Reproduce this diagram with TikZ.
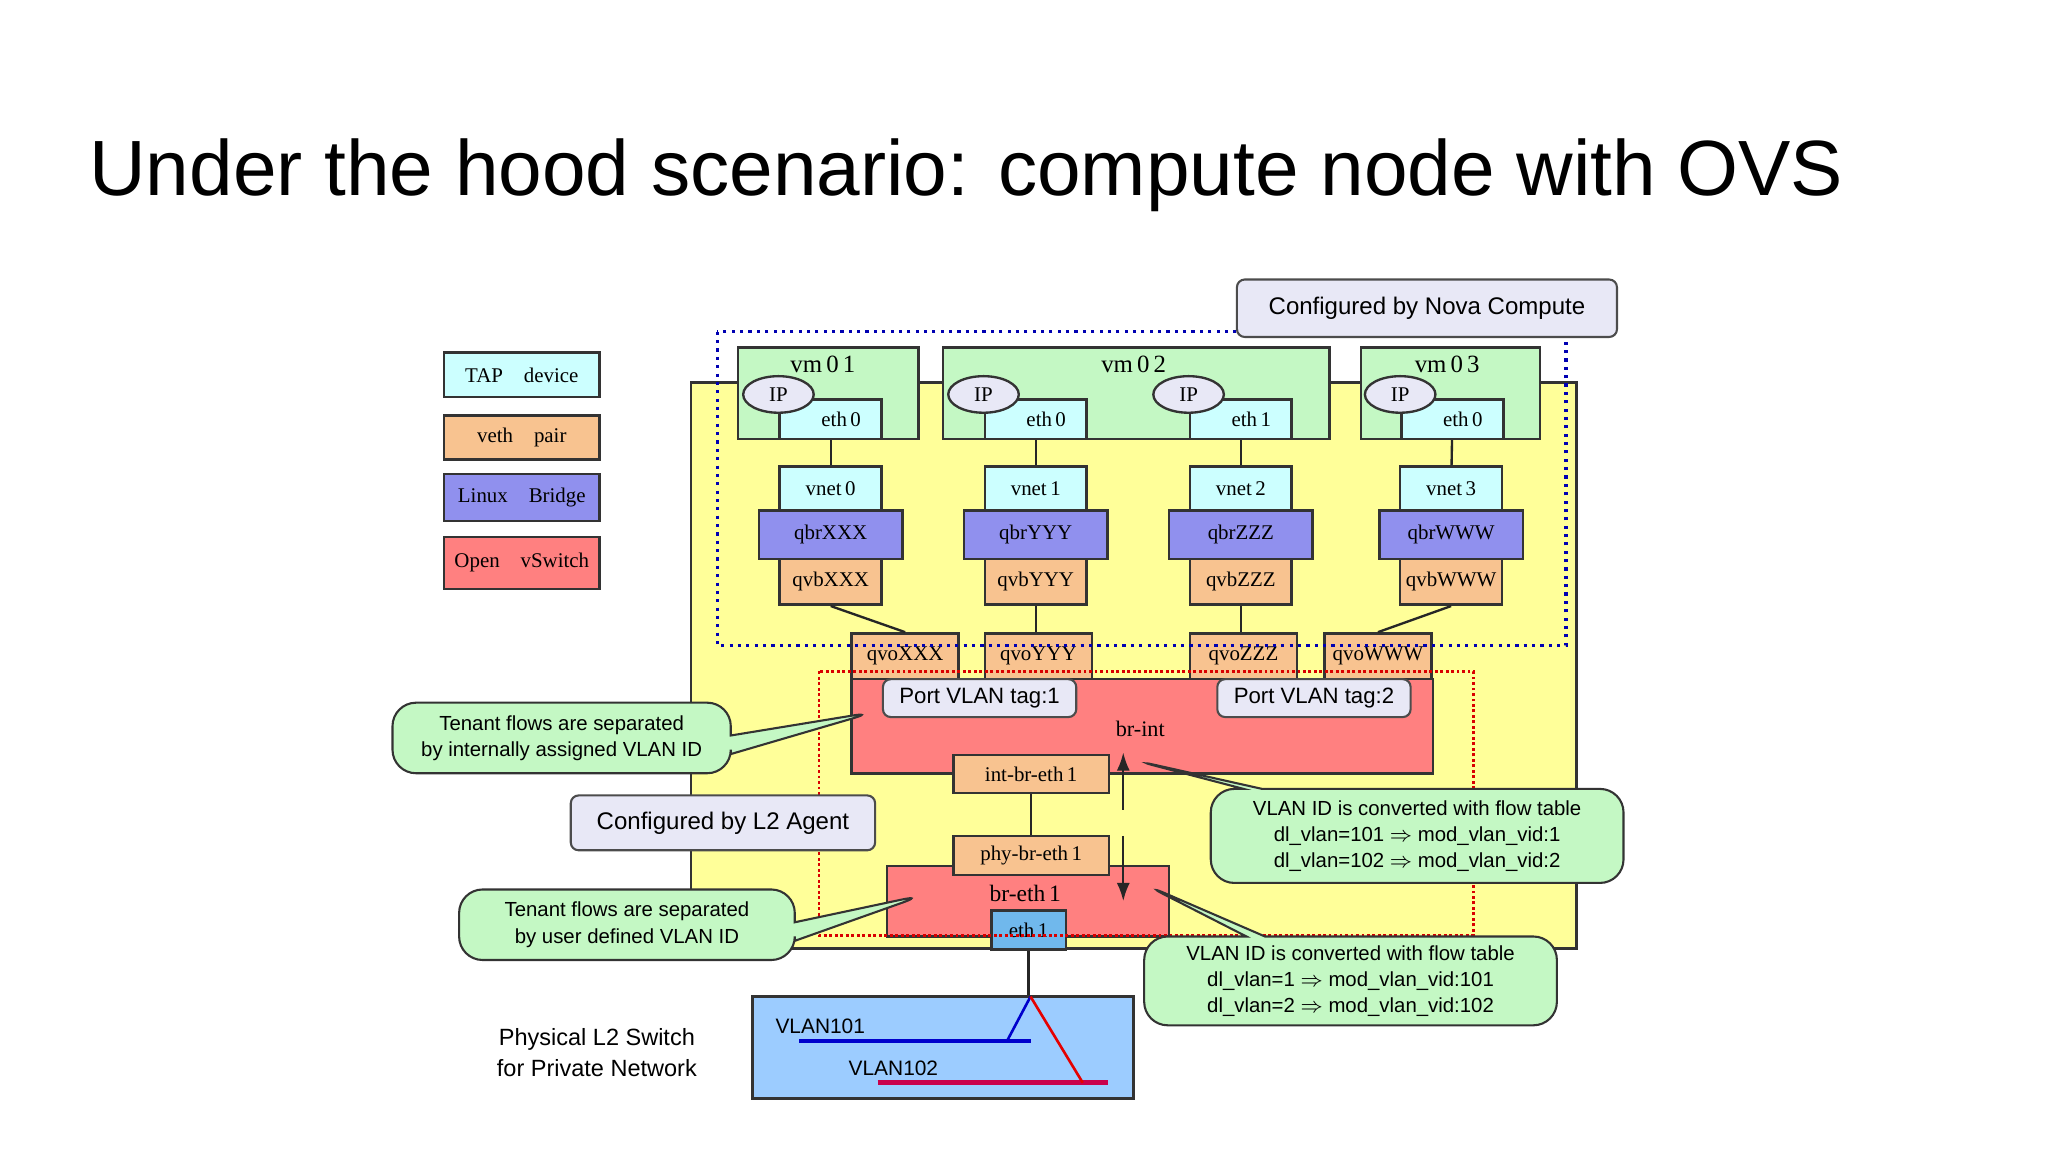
\documentclass[tikz,border=0pt]{standalone}
\usepackage{fontspec}
\setmainfont{Liberation Serif}
\newfontfamily\sans{Liberation Sans}
\usetikzlibrary{shapes.geometric,shapes.callouts,arrows.meta}
\definecolor{cyel}{HTML}{FFFF99}
\definecolor{cgrn}{HTML}{C4F8C4}
\definecolor{ccya}{HTML}{CCFFFF}
\definecolor{cora}{HTML}{F8C390}
\definecolor{cblu}{HTML}{9090EE}
\definecolor{cred}{HTML}{FF8080}
\definecolor{clav}{HTML}{E8E8F6}
\definecolor{ceth}{HTML}{70B8EC}
\definecolor{cswi}{HTML}{9CCCFF}
\newcommand{\bx}[7]{\node[#6, minimum width={((#4)-(#2))*0.5pt}, minimum height={((#5)-(#3))*0.5pt}] (#1) at ({((#2)+(#4))/2},{((#3)+(#5))/2}) {#7};}
\begin{document}
\begin{tikzpicture}[x=0.5pt,y=-0.5pt,
  box/.style={draw=black!80, line width=1pt, inner sep=0pt, font=\fontsize{8}{9}\selectfont},
  tap/.style={box, fill=ccya}, veth/.style={box, fill=cora}, lb/.style={box, fill=cblu},
  ovs/.style={box, fill=cred}, vm/.style={box, fill=cgrn},
  lav/.style={draw=black!70, line width=0.8pt, fill=clav, rounded corners=3pt, inner sep=0pt, font=\sans\fontsize{8.5}{10}\selectfont},
  call/.style={rectangle callout, draw=black!80, line width=0.8pt, fill=cgrn, rounded corners=9pt, align=center, inner sep=0pt, font=\sans\fontsize{7.8}{10}\selectfont},
  ln/.style={draw=black!85, line width=0.9pt}]
\useasboundingbox (0,0) rectangle (1568,882);
\node[anchor=base west, font=\sans\fontsize{30}{36}\selectfont, inner sep=0pt] (title) at (68,150) {Under the hood scenario: compute node with OVS};
% legend
\bx{lg1}{340}{270}{459}{304}{tap}{TAP\quad device}
\bx{lg2}{340}{318}{459}{352}{veth}{veth\quad pair}
\bx{lg3}{340}{363}{459}{399}{lb}{Linux\quad Bridge}
\bx{lg4}{340}{411}{459}{451}{ovs}{Open\quad vSwitch}
% host
\bx{host}{529}{293}{1207}{726}{box, fill=cyel}{}
% VMs
\bx{vm1}{565}{266}{703}{336}{vm}{}
\bx{vm2}{722}{266}{1018}{336}{vm}{}
\bx{vm3}{1042}{266}{1179}{336}{vm}{}
\node[font=\fontsize{9.5}{10}\selectfont] (vm1t) at (630,279) {vm\,0\,1};
\node[font=\fontsize{9.5}{10}\selectfont] (vm2t) at (868,279) {vm\,0\,2};
\node[font=\fontsize{9.5}{10}\selectfont] (vm3t) at (1108,279) {vm\,0\,3};
\bx{e1}{597}{306}{675}{336}{tap}{\quad eth\,0}
\bx{e2}{754}{306}{832}{336}{tap}{\quad eth\,0}
\bx{e3}{911}{306}{989}{336}{tap}{\quad eth\,1}
\bx{e4}{1073}{306}{1151}{336}{tap}{\quad eth\,0}
\foreach \n/\x in {1/596,2/753,3/910,4/1072}{
  \node[ellipse, draw=black!80, line width=0.9pt, fill=clav, minimum width=27pt, minimum height=14pt, inner sep=0pt, font=\fontsize{8}{9}\selectfont] (ip\n) at (\x,302) {IP};}
% stacks
\foreach \n/\c/\s in {1/636/XXX,2/793/YYY,3/950/ZZZ,4/1111/WWW}{
  \bx{vn\n}{\c-39}{357}{\c+39}{391}{tap}{vnet\,\the\numexpr\n-1\relax}
  \bx{qbr\n}{\c-55}{391}{\c+55}{428}{lb}{qbr\s}
  \bx{qvb\n}{\c-39}{428}{\c+39}{463}{veth}{qvb\s}
  \draw[ln] (e\n) -- (vn\n);
}
\bx{qvo1}{652}{485}{734}{520}{veth}{qvoXXX}
\bx{qvo2}{754}{485}{836}{520}{veth}{qvoYYY}
\bx{qvo3}{911}{485}{993}{520}{veth}{qvoZZZ}
\bx{qvo4}{1014}{485}{1096}{520}{veth}{qvoWWW}
\draw[ln] (qvb1.south) -- (qvo1.north);
\draw[ln] (qvb2.south) -- (qvo2.north-|qvb2.south);
\draw[ln] (qvb3.south) -- (qvo3.north-|qvb3.south);
\draw[ln] (qvb4.south) -- (qvo4.north);
% br-int
\bx{brint}{652}{520}{1097}{592}{ovs}{}
\node[font=\fontsize{8.5}{9}\selectfont] (brintt) at (873,558) {br-int};
\bx{tag1}{676}{520}{824}{549}{lav}{Port VLAN tag:1}
\bx{tag2}{932}{520}{1080}{549}{lav}{Port VLAN tag:2}
\bx{ibe}{730}{578}{849}{607}{veth}{int-br-eth\,1}
\bx{breth}{679}{663}{895}{717}{ovs}{}
\node[font=\fontsize{9}{10}\selectfont] (brethtt) at (785,684) {br-eth\,1};
\bx{pbe}{730}{640}{849}{670}{veth}{phy-br-eth\,1}
\draw[ln] (ibe) -- (pbe);
\bx{eth1}{759}{697}{816}{727}{box, fill=ceth}{eth\,1}
\coordinate (au1) at (860,620); \coordinate (au2) at (860,576);
\coordinate (ad1) at (860,640); \coordinate (ad2) at (860,690);
\draw[ln, -{Latex[length=7pt,width=5pt]}] (au1) -- (au2);
\draw[ln, -{Latex[length=7pt,width=5pt]}] (ad1) -- (ad2);
% dotted frames
\draw[blue!70!black, dotted, line width=1.2pt] (549,254) rectangle (1199,494);
\draw[red!85!black, densely dotted, line width=1.1pt] (627,514) rectangle (1128,716);
% switch
\bx{sw}{576}{763}{868}{841}{box, fill=cswi}{}
\draw[ln] (eth1) -- (sw.north-|eth1);
\coordinate (sp) at (789,763);
\coordinate (v1a) at (612,797); \coordinate (v1b) at (789,797); \coordinate (v1c) at (771,797);
\coordinate (v2a) at (672,829); \coordinate (v2b) at (848,829); \coordinate (v2c) at (829,829);
\draw[blue!80!black, line width=1.8pt] (v1a) -- (v1b);
\draw[blue!80!black, line width=1pt] (v1c) -- (sp);
\draw[red!70!black!70!magenta, line width=1.8pt] (v2a) -- (v2b);
\draw[red!90!black, line width=1pt] (sp) -- (v2c);
\node[font=\sans\fontsize{8}{9}\selectfont] (v1t) at (628,786) {VLAN101};
\node[font=\sans\fontsize{8}{9}\selectfont] (v2t) at (684,818) {VLAN102};
\node[font=\sans\fontsize{9}{12}\selectfont, align=center] (phys) at (457,806) {Physical L2 Switch\\for Private Network};
% labels
\bx{nova}{947}{214}{1238}{258}{lav}{\fontsize{9.2}{10}\selectfont Configured by Nova Compute}
\bx{l2a}{437}{609}{670}{651}{lav}{\fontsize{9.2}{10}\selectfont Configured by L2 Agent}
% callouts
\coordinate (p1) at (670,545); \coordinate (p2) at (708,685);
\coordinate (p3) at (868,582); \coordinate (p4) at (876,677);
\node[call, minimum width={259*0.5pt}, minimum height={54*0.5pt}, callout absolute pointer={(p1)}] (c1) at (430,565) {Tenant flows are separated\\by internally assigned VLAN ID};
\node[call, minimum width={257*0.5pt}, minimum height={54*0.5pt}, callout absolute pointer={(p2)}] (c2) at (480,708) {Tenant flows are separated\\by user defined VLAN ID};
\node[call, minimum width={316*0.5pt}, minimum height={72*0.5pt}, callout absolute pointer={(p3)}] (c3) at (1085,640) {VLAN ID is converted with flow table\\dl\_vlan=101 $\Rightarrow$ mod\_vlan\_vid:1\\dl\_vlan=102 $\Rightarrow$ mod\_vlan\_vid:2};
\node[call, minimum width={316*0.5pt}, minimum height={68*0.5pt}, callout absolute pointer={(p4)}] (c4) at (1034,751) {VLAN ID is converted with flow table\\dl\_vlan=1 $\Rightarrow$ mod\_vlan\_vid:101\\dl\_vlan=2 $\Rightarrow$ mod\_vlan\_vid:102};
\end{tikzpicture}
\end{document}
